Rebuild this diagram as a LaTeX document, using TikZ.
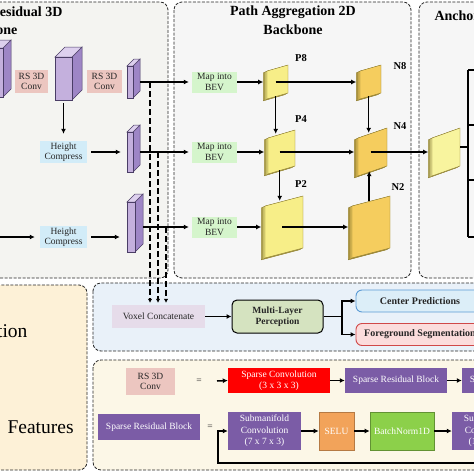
\documentclass[tikz,border=0pt]{standalone}
\usepackage{fontspec}
\setmainfont{Liberation Serif}
\usetikzlibrary{arrows.meta,positioning,calc}

\definecolor{panelgray}{HTML}{F4F4F1}
\definecolor{panelmid}{HTML}{F6F6F6}
\definecolor{panelpeach}{HTML}{FDF1D7}
\definecolor{panelblue}{HTML}{E9F1F9}
\definecolor{panelcream}{HTML}{FCF7E7}
\definecolor{rspink}{HTML}{ECC6C0}
\definecolor{hcblue}{HTML}{D2ECF8}
\definecolor{bevgreen}{HTML}{D5F5CC}
\definecolor{voxlilac}{HTML}{E6DCEA}
\definecolor{mlpgreen}{HTML}{D5E3C0}
\definecolor{cpblue}{HTML}{DCEEF8}
\definecolor{cpedge}{HTML}{5B9BD5}
\definecolor{fgpink}{HTML}{FBDCDC}
\definecolor{fgedge}{HTML}{D04848}
\definecolor{spred}{HTML}{FF0000}
\definecolor{srbpurple}{HTML}{7B5CA6}
\definecolor{seluorange}{HTML}{F2A35A}
\definecolor{bngreen}{HTML}{8CD04A}
\definecolor{cubefront}{HTML}{C4B0DD}
\definecolor{cubeside}{HTML}{9E86C6}
\definecolor{cubetop}{HTML}{DDD0EE}
\definecolor{cubeedge}{HTML}{4A3D66}
\definecolor{pyellow}{HTML}{F7EE88}
\definecolor{nyellow}{HTML}{F5CD5E}
\definecolor{hyellow}{HTML}{F8F49E}
\definecolor{fmedge}{HTML}{8A7A30}

\newcommand{\fsz}[2]{\fontsize{#1}{#2}\selectfont}

% purple voxel block: name, x, y, w, h, depth
\newcommand{\cuboid}[6]{%
  \filldraw[cubeline, fill=cubeside] (#2+#4,#3) -- (#2+#4+#6,#3-#6) -- (#2+#4+#6,#3+#5-#6) -- (#2+#4,#3+#5) -- cycle;
  \filldraw[cubeline, fill=cubetop] (#2,#3) -- (#2+#6,#3-#6) -- (#2+#4+#6,#3-#6) -- (#2+#4,#3) -- cycle;
  \filldraw[cubeline, fill=cubefront] (#2,#3) rectangle (#2+#4,#3+#5);
  \node[inner sep=0pt, minimum width=#4pt, minimum height=#5pt] (#1) at (#2+#4/2,#3+#5/2) {};
}
% stacked BEV feature map: name, x, y, w, h, slant, colour
\newcommand{\fmap}[7]{%
  \foreach \k in {3,2,1} {
    \filldraw[fmline, fill=#7!94!black] (#2-1.2*\k,#3+0.6*\k) -- ++(#4,-#6) -- ++(0,#5) -- ++(-#4,#6) -- cycle;
  }
  \filldraw[fmline, fill=#7] (#2,#3) -- ++(#4,-#6) -- ++(0,#5) -- ++(-#4,#6) -- cycle;
  \node[inner sep=0pt, minimum width=#4pt+3.6pt, minimum height=#5pt] (#1) at (#2+#4/2-1.8,#3+#5/2-#6/2) {};
}

\begin{document}
\begin{tikzpicture}[x=1pt, y=-1pt,
    every node/.style={font=\fsz{9.5}{10.5}, text=black!85},
    panel/.style={draw=black!85, line width=0.8pt, dash pattern=on 3pt off 1.5pt, rounded corners=8pt},
    titlefont/.style={font=\fsz{14}{16}\bfseries, text=black},
    bigfont/.style={font=\fsz{19.5}{22}, text=black},
    tagfont/.style={font=\fsz{10.5}{12}\bfseries, text=black},
    labelbox/.style={inner sep=1pt, align=center},
    rsbox/.style={labelbox, fill=rspink, minimum height=23pt},
    hcbox/.style={labelbox, fill=hcblue, minimum width=47pt, minimum height=22pt},
    bevbox/.style={labelbox, fill=bevgreen, minimum width=45pt, minimum height=21pt},
    headbox/.style={labelbox, rounded corners=6pt, line width=0.9pt, minimum width=128pt, minimum height=22pt, font=\fsz{10}{11}\bfseries},
    whitebox/.style={labelbox, text=white, font=\fsz{9.5}{11.5}},
    cubeline/.style={draw=cubeedge, line width=0.5pt},
    fmline/.style={draw=fmedge, line width=0.4pt},
    conn/.style={line width=1.5pt, black},
    arrow/.style={conn, -{Latex[length=5pt,width=5pt]}},
    tap/.style={line width=1.8pt, black, dash pattern=on 6pt off 3pt, -{Latex[length=4pt,width=4.5pt]}}
]
\useasboundingbox (0,0) rectangle (474,474);
\fill[white] (0,0) rectangle (474,474);

% ---- panels ----
\draw[panel, fill=panelgray] (-10,2) rectangle (168,278);
\draw[panel, fill=panelmid] (174,2) rectangle (411,278);
\draw[panel, fill=panelmid] (419,2) rectangle (490,278);
\draw[panel, fill=panelpeach] (-10,285) rectangle (87,470);
\draw[panel, fill=panelblue] (93,283) rectangle (490,351);
\draw[panel, fill=panelcream] (93,360) rectangle (490,470);

% ---- titles ----
\node[titlefont, anchor=base east] (ttlA) at (66,16) {Residual 3D};
\node[titlefont, anchor=base east] (ttlB) at (21,34.5) {Backbone};
\node[titlefont, anchor=base] (ttlC) at (293,15.5) {Path Aggregation 2D};
\node[titlefont, anchor=base] (ttlD) at (293,34) {Backbone};
\node[titlefont, anchor=base west] (ttlE) at (431,20) {Anchor};
\node[bigfont, anchor=base east] (ttlF) at (31,337) {Detection};
\node[bigfont, anchor=base west] (ttlG) at (4,433) {Features};

% ---- residual 3D backbone ----
\cuboid{cubeA}{-20}{48}{23}{49}{8}
\node[rsbox, minimum width=33pt] (rsA) at (31.5,81.5) {RS 3D\\Conv};
\cuboid{cubeB}{55}{57}{17}{43}{10}
\node[rsbox, minimum width=35pt] (rsB) at (104.5,81.5) {RS 3D\\Conv};
\cuboid{slabA}{127}{66}{6}{32}{7}

\node[hcbox] (hcA) at (63.5,152) {Height\\Compress};
\cuboid{slabB}{127}{132}{6}{40}{7}
\coordinate (inC) at (-2,237);
\node[hcbox] (hcB) at (63.5,237) {Height\\Compress};
\cuboid{slabC}{127}{202}{8}{50}{8}

\draw[arrow, shorten <=3pt, shorten >=7pt] (cubeB.south) -- (hcA.north);
\draw[arrow, shorten <=4pt, shorten >=6pt] (hcA.east) -- (slabB.west);
\draw[arrow, shorten >=5pt] (inC) -- (hcB.west);
\draw[arrow, shorten <=4pt, shorten >=7pt] (hcB.east) -- (slabC.west |- hcB.east);

% ---- path aggregation 2D backbone ----
\node[bevbox] (bevA) at (214.5,82) {Map into\\BEV};
\node[bevbox] (bevB) at (214.5,152) {Map into\\BEV};
\node[bevbox] (bevC) at (214.5,227) {Map into\\BEV};

\draw[arrow, shorten >=3pt] ([xshift=7pt]slabA.east) -- (bevA.west);
\draw[arrow, shorten >=3pt] ([xshift=7pt]slabB.east) -- (bevB.west);
\draw[arrow, shorten >=3pt] ([xshift=8pt]slabC.east) -- (bevC.west);

\fmap{P8}{267}{71}{21}{28}{6}{pyellow}
\fmap{P4}{268}{138}{27}{36}{8}{pyellow}
\fmap{P2}{265}{206}{38}{52}{10}{pyellow}
\fmap{N8}{360}{71}{21}{28}{6}{nyellow}
\fmap{N4}{358}{138}{29}{38}{10}{nyellow}
\fmap{N2}{352}{206}{38}{52}{10}{nyellow}

\draw[arrow] (bevA.east) -- (P8.west);
\draw[arrow] (bevB.east) -- (P4.west);
\draw[arrow] (bevC.east) -- (P2.west);

\draw[arrow] (P8.center) -- (P8.center -| N8.west);
\draw[arrow] (P4.center) -- (P4.center -| N4.west);
\draw[arrow] (P2.center) -- (P2.center -| N2.west);
\draw[arrow] (P8.south) -- (P8.south |- P4.north);
\draw[arrow] (P4.south) -- (P4.south |- P2.north);
\draw[arrow] (N8.south) -- (N8.south |- N4.north);
\draw[arrow] (N2.north) -- (N2.north |- N4.south);

\node[tagfont] (tP8) at (301,58) {P8};
\node[tagfont] (tP4) at (301,119) {P4};
\node[tagfont] (tP2) at (301,184) {P2};
\node[tagfont] (tN8) at (400,66) {N8};
\node[tagfont] (tN4) at (400,126) {N4};
\node[tagfont] (tN2) at (398,187) {N2};

% ---- anchor head ----
\fmap{head}{432}{138}{28}{38}{10}{hyellow}
\draw[arrow] (N4.center) -- (N4.center -| head.west);
\coordinate (hfork) at (468,147);
\draw[conn] (hfork -| head.east) -- (hfork);
\draw[conn] (468,70) -- (468,237);
\foreach \yy in {70,125,180,237} {
  \coordinate (hb\yy) at (468,\yy);
  \draw[conn] (hb\yy) -- ++(14,0);
}

% ---- voxel features to MLP ----
\node[labelbox, fill=voxlilac, minimum width=93pt, minimum height=23pt] (voxcat) at (158.5,316.5) {Voxel Concatenate};
\coordinate (tapA) at (150,82);
\coordinate (tapB) at (158,152);
\coordinate (tapC) at (166,227);
\foreach \t in {tapA,tapB,tapC}
  \draw[tap, shorten >=2pt] (\t) -- (\t |- voxcat.north);

\node[labelbox, draw=black, line width=1pt, rounded corners=5pt, fill=mlpgreen, minimum width=91pt, minimum height=33pt, font=\fsz{9.5}{11}\bfseries] (mlp) at (277.5,316.5) {Multi-Layer\\Perception};
\draw[arrow] (voxcat.east) -- (mlp.west);

\node[headbox, draw=cpedge, fill=cpblue] (cpred) at (420,301) {Center Predictions};
\node[headbox, draw=fgedge, fill=fgpink] (fgseg) at (420,334.5) {Foreground Segmentation};
\coordinate (fork) at (342,316.5);
\draw[conn] (mlp.east) -- (fork);
\draw[arrow] (fork) |- (cpred.west);
\draw[arrow] (fork) |- (fgseg.west);

% ---- legend ----
\node[rsbox, minimum width=49pt, minimum height=27pt] (rsleg) at (150.5,381.5) {RS 3D\\Conv};
\node (eqA) at (199,381) {=};
\coordinate (eqAout) at (217,381);
\node[whitebox, fill=spred, minimum width=102pt, minimum height=25pt] (spconv) at (279,380.5) {Sparse Convolution\\(3 x 3 x 3)};
\node[whitebox, fill=srbpurple, minimum width=102pt, minimum height=25pt] (srbA) at (396,380.5) {Sparse Residual Block};
\node[whitebox, fill=srbpurple, minimum width=102pt, minimum height=25pt] (srbB) at (513,380.5) {Sparse Residual Block};
\draw[arrow] (eqAout) -- (spconv.west);
\draw[arrow] (spconv.east) -- (srbA.west);
\draw[arrow] (srbA.east) -- (srbB.west);

\node[whitebox, fill=srbpurple, minimum width=102pt, minimum height=26pt] (srbleg) at (149,427) {Sparse Residual Block};
\node (eqB) at (210,427) {=};
\node[whitebox, fill=srbpurple, minimum width=73pt, minimum height=38pt] (subm) at (264.5,431) {Submanifold\\Convolution\\(7 x 7 x 3)};
\node[whitebox, fill=seluorange, draw=seluorange!75!black, line width=0.6pt, minimum width=35pt, minimum height=38pt] (selu) at (336.5,431) {SELU};
\node[whitebox, fill=bngreen, draw=bngreen!70!black, line width=0.6pt, minimum width=64pt, minimum height=38pt] (bn) at (402,431) {BatchNorm1D};
\node[whitebox, fill=srbpurple, minimum width=73pt, minimum height=38pt] (submB) at (488.5,431) {Submanifold\\Convolution\\(1 x 1 x 1)};
\draw[arrow] (subm.east) -- (selu.west);
\draw[arrow] (selu.east) -- (bn.west);
\draw[arrow] (bn.east) -- (submB.west);

\coordinate (skipR) at (480,463);
\coordinate (skipL) at (218,463);
\draw[arrow] (skipR) -- (skipL) |- (subm.west);
\end{tikzpicture}
\end{document}
